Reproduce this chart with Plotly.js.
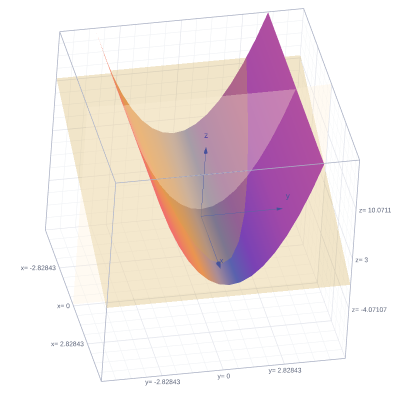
<!DOCTYPE html>
<html><head><meta charset="utf-8">
<script src="https://cdn.plot.ly/plotly-3.0.1.min.js"></script>
<style>html,body{margin:0;padding:0;background:#fff}#c{width:400px;height:401px}</style>
</head><body><div id="c"></div>
<script>
const surfX=[-5.657,0,5.657];
const surfY=[-4,-3.5,-3,-2.5,-2,-1.5,-1,-0.5,0,0.5,1,1.5,2,2.5,3,3.5,4];
const surfProfile=[17,13.25,10,7.25,5,3.25,2,1.25,1,1.25,2,3.25,5,7.25,10,13.25,17];
const tintBack=[-1.9,-1.7,-1.5,-1.3,-1.2,-1.05,-0.9,-0.6,-0.3,0.3,1,1.5,2,2.5,3,3.5,4];
const tintMid=[-3,-2.4,-1.8,-1.3,-1.2,-1.05,-0.9,-0.5,0,0.5,1,1.5,2,2.5,3,3.5,4];
const tintFront=[-4,-3.5,-3,-2.5,-2,-1.5,-1,-0.5,0,0.5,1,1.5,2,2.5,3,3.5,4];
const planeAEdgeX=[-5.657,5.657];
const planeAEdgeZ=[10.8,-0.6];
const planeAStationsY=[-5.657,-4,-3.5,-3.14,-3,-2.5,-2,-1.5,-1,-0.5,0,0.5,1,1.5,2,2.5,3,3.14,3.5,4,5.657];
const planeACutX=[-5.657,-5.657,-5.657,-5.65,-4.86,-2.13,0.1,1.84,3.07,3.82,4.07,3.82,3.07,1.84,0.1,-2.13,-4.86,-5.65,-5.657,-5.657,-5.657];
const planeBX=0;
const planeBStationsY=[-5.657,-4,-3.5,-3,-2.5,-2,-1.5,-1,-0.5,0,0.5,1,1.5,2,2.5,3,3.5,4,5.657];
const planeBCutZ=[17.142,17,13.25,10,7.25,5,3.25,2,1.25,1,1.25,2,3.25,5,7.25,10,13.25,17,17.142];
const xMajor=[-2.82843,0,2.82843];
const yMajor=[-2.82843,0,2.82843];
const zMajor=[-4.07107,3,10.0711];
const xMajorText=['x= -2.82843','x= 0','x= 2.82843'];
const yMajorText=['y= -2.82843','y= 0','y= 2.82843'];
const zMajorText=['z= -4.07107','z= 3','z= 10.0711'];
const xyGrid=[-4.95,-4.243,-3.536,-2.828,-2.121,-1.414,-0.707,0,0.707,1.414,2.121,2.828,3.536,4.243,4.95];
const zGrid=[-9.374,-7.607,-5.839,-4.071,-2.303,-0.536,1.232,3,4.768,6.536,8.303,10.071,11.839,13.607,15.374];
const xRange=[-5.657,5.657], yRange=[-5.657,5.657], zRange=[-11.142,17.142];
const axisTips=[3.5,3.5,9];
const axisLabelAt=[4.1,4,10];

const fontLab={family:'Liberation Sans, Arial',size:6.6,color:'#5a6278'};
function axis(vals,range){
  return {range,autorange:false,tickmode:'array',tickvals:vals,showticklabels:false,
    title:{text:''},showgrid:true,gridcolor:'#eef0f4',gridwidth:1,zeroline:false,showline:false,ticks:'',
    showbackground:false,showspikes:false};
}
const colors=[[0,'#f0686a'],[0.225,'#f0746a'],[0.35,'#ea9550'],[0.45,'#a88c98'],[0.55,'#5a62ae'],[0.65,'#7a42b4'],[0.81,'#a048a8'],[1,'#b04fa0']];
const flat={ambient:1,diffuse:0,specular:0,roughness:1,fresnel:0};
const common={type:'surface',showscale:false,hoverinfo:'skip',lighting:flat,cmin:0,cmax:1};
const surf=Object.assign({},common,{x:surfX,y:surfY,z:surfY.map((_,j)=>surfX.map(()=>surfProfile[j])),
  surfacecolor:surfY.map((_,j)=>[tintBack[j],tintMid[j],tintFront[j]]),colorscale:colors,cmin:-4,cmax:4});

const view=[0.7607*5.657,-0.2084*5.657,0.6043*14.142];
const s=(p,t)=>[p[0]+t*view[0],p[1]+t*view[1],p[2]+t*view[2]];
const LIFT=0.03;
function sheet(rowsA,rowsB,slide,color,op){
  const toXYZ=i=>[rowsA,rowsB].map(r=>r.map(p=>s(p,slide)[i]));
  const n=rowsA.length;
  return Object.assign({},common,{x:toXYZ(0),y:toXYZ(1),z:toXYZ(2),
    surfacecolor:[Array(n).fill(0),Array(n).fill(0)],colorscale:[[0,color],[1,color]],opacity:op});
}
const [x0,x1]=xRange,[y0,y1]=yRange,[z0,z1]=zRange;
const planeZ=x=>planeAEdgeZ[0]+(x-planeAEdgeX[0])*(planeAEdgeZ[1]-planeAEdgeZ[0])/(planeAEdgeX[1]-planeAEdgeX[0]);
const A='#cda649', opA=0.3, B='#fff0d7', opB=0.32;
const inA=planeAStationsY.map((y,i)=>({y,c:planeACutX[i]})).filter(p=>Math.abs(p.y)<=3.14);
const planeAUp=sheet(inA.map(p=>[x0,p.y,planeZ(x0)]),inA.map(p=>[p.c,p.y,planeZ(p.c)]),LIFT,A,opA);
const planeADown=sheet(planeAStationsY.map((y,i)=>[planeACutX[i],y,planeZ(planeACutX[i])]),planeAStationsY.map(y=>[x1,y,planeZ(x1)]),-LIFT,A,opA);
const inB=planeBStationsY.map((y,i)=>({y,c:planeBCutZ[i]})).filter(p=>Math.abs(p.y)<=4);
const planeBUp=sheet(inB.map(p=>[planeBX,p.y,p.c]),inB.map(p=>[planeBX,p.y,z1]),LIFT,B,opB);
const planeBDown=sheet(planeBStationsY.map(y=>[planeBX,y,z0]),planeBStationsY.map((y,i)=>[planeBX,y,planeBCutZ[i]]),-LIFT,B,opB);

// Box lines sit a hair inside the ranges so the clip planes do not eat them
const ix0=x0+0.02,ix1=x1-0.02,iy0=y0+0.02,iy1=y1-0.02,iz0=z0+0.05,iz1=z1-0.05;
const line3={type:'scatter3d',mode:'lines',hoverinfo:'skip',showlegend:false};
const edge=Object.assign({},line3,{line:{color:'#aab0c4',width:1.5},
  x:[ix0,ix0,ix1,ix1,ix0,ix0,ix1,ix1,ix1,ix1,ix1],
  y:[iy0,iy1,iy1,iy0,iy0,iy0,iy0,iy0,iy1,iy1,iy0],
  z:[iz1,iz1,iz1,iz1,iz1,iz0,iz0,iz1,iz1,iz0,iz0]});
const mx=[],my=[],mz=[];
function seg(a,b){mx.push(a[0],b[0],null);my.push(a[1],b[1],null);mz.push(a[2],b[2],null);}
xMajor.forEach(v=>{seg([v,iy0,iz0],[v,iy1,iz0]);seg([v,iy1,iz0],[v,iy1,iz1]);});
yMajor.forEach(v=>{seg([ix0,v,iz0],[ix1,v,iz0]);seg([ix0,v,iz0],[ix0,v,iz1]);});
zMajor.forEach(v=>{seg([ix0,iy0,v],[ix0,iy1,v]);seg([ix0,iy1,v],[ix1,iy1,v]);});
seg([ix0,iy0,iz0],[ix0,iy1,iz0]);seg([ix0,iy1,iz0],[ix1,iy1,iz0]);seg([ix0,iy1,iz0],[ix0,iy1,iz1]);
const major=Object.assign({},line3,{line:{color:'#e0e2ea',width:1},x:mx,y:my,z:mz});
const ends=[[axisTips[0],0,0],[0,axisTips[1],0],[0,0,axisTips[2]]];
const slide=[0.3,1.2,0.3];
const ax=[],ay=[],az=[];
ends.forEach((e,i)=>{const a=s([0,0,0],slide[i]),b=s(e,slide[i]);ax.push(a[0],b[0],null);ay.push(a[1],b[1],null);az.push(a[2],b[2],null);});
const axes=Object.assign({},line3,{line:{color:'#5a66a0',width:1},x:ax,y:ay,z:az});
const tipPts=ends.map((e,i)=>s(e,slide[i]));
const heads={type:'cone',anchor:'tail',sizemode:'raw',sizeref:1,showscale:false,hoverinfo:'skip',colorscale:[[0,'#46529a'],[1,'#46529a']],lighting:flat,
  x:tipPts.map(p=>p[0]),y:tipPts.map(p=>p[1]),z:tipPts.map(p=>p[2]),u:[0.42,0,0],v:[0,0.28,0],w:[0,0,0.86]};
const labPts=[[axisLabelAt[0],0,0],[0,axisLabelAt[1],0],[0,0,axisLabelAt[2]]].map((e,i)=>s(e,slide[i]));
const axLabels={type:'scatter3d',mode:'text',hoverinfo:'skip',showlegend:false,x:labPts.map(p=>p[0]),y:labPts.map(p=>p[1]),z:labPts.map(p=>p[2]),text:['x','y','z'],
  textfont:{family:'Liberation Sans, Arial',size:8,color:'#46529a'}};
const text3={type:'scatter3d',mode:'text',hoverinfo:'skip',showlegend:false,textfont:fontLab};
const xLab=Object.assign({},text3,{x:xMajor,y:xMajor.map(()=>y0+0.15),z:xMajor.map(()=>z0),text:xMajorText,textposition:'middle left'});
const yLab=Object.assign({},text3,{x:yMajor.map(()=>x1),y:yMajor,z:yMajor.map(()=>z0+0.5),text:yMajorText,textposition:'bottom center'});
const zLab=Object.assign({},text3,{x:zMajor.map(()=>x1),y:zMajor.map(()=>y1-0.18),z:zMajor,text:zMajorText,textposition:'middle right'});
const layout={width:400,height:401,margin:{l:5,r:0,t:0,b:11},paper_bgcolor:'#fff',showlegend:false,hovermode:false,
  scene:{aspectmode:'manual',aspectratio:{x:1.29,y:1.29,z:1.29},xaxis:axis(xyGrid,xRange),yaxis:axis(xyGrid,yRange),zaxis:axis(zGrid,zRange),
    camera:{projection:{type:'orthographic'},center:{x:0,y:0,z:0},eye:{x:1.52,y:-0.42,z:1.21},up:{x:-0.6,y:0.0914,z:0.7867}}}};
Plotly.newPlot('c',[major,surf,planeAUp,planeADown,planeBUp,planeBDown,edge,axes,heads,axLabels,xLab,yLab,zLab],layout,{displayModeBar:false});
</script></body></html>
